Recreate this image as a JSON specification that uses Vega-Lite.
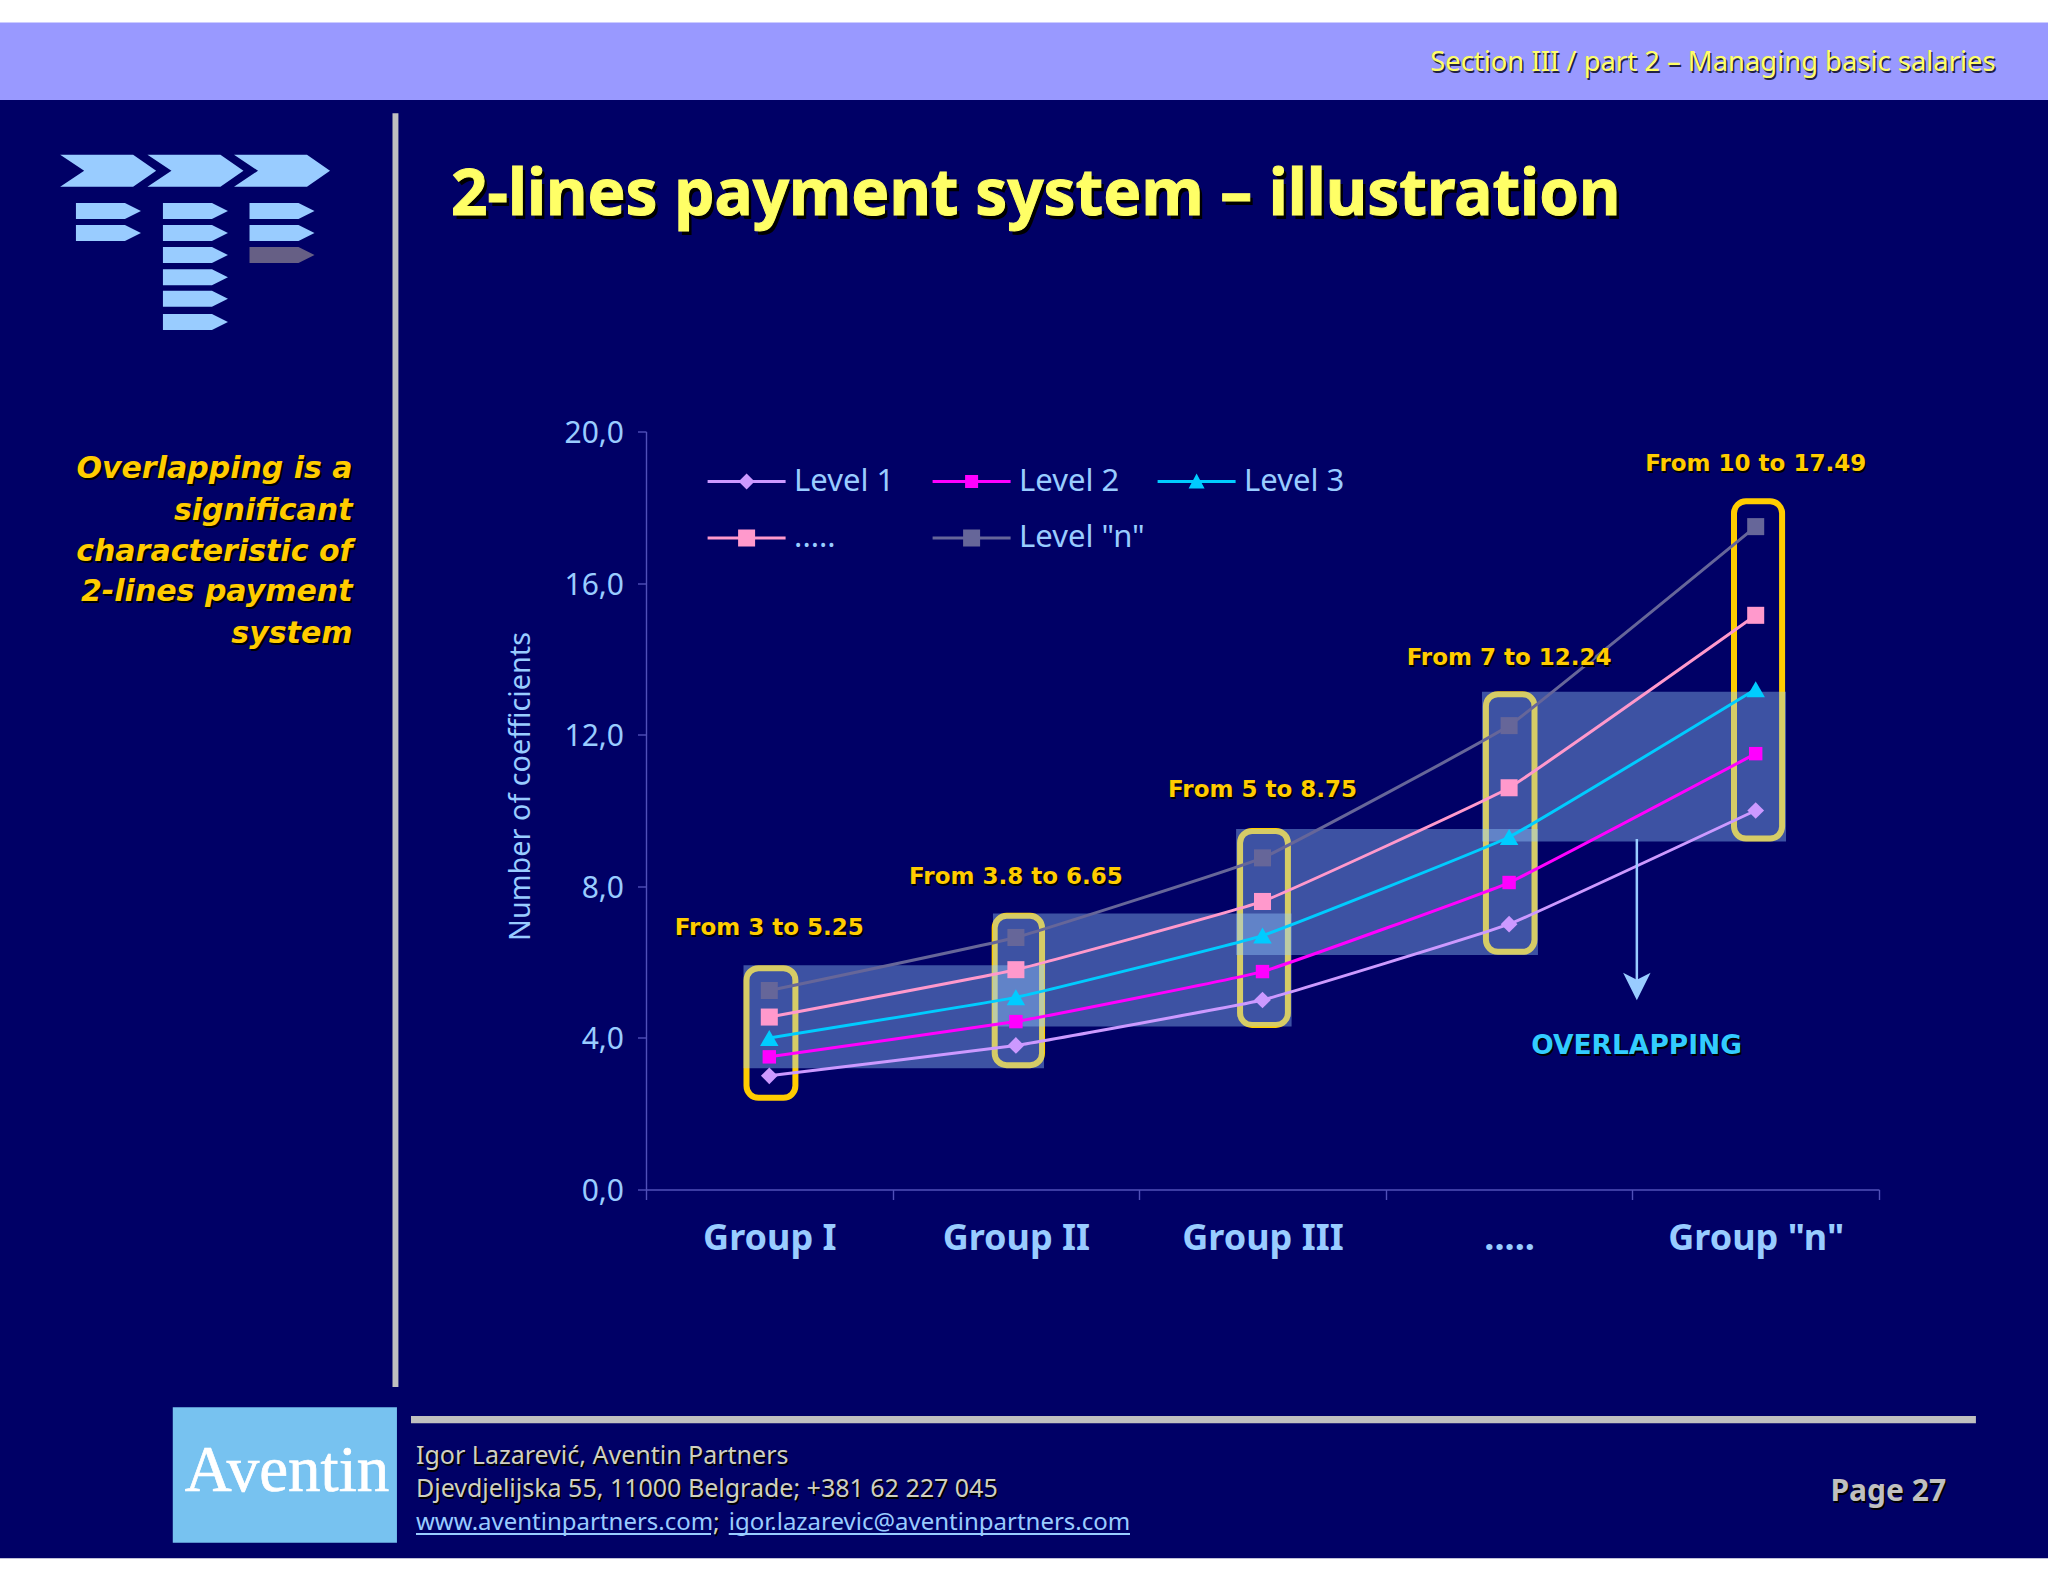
{
"$schema":"https://vega.github.io/schema/vega-lite/v6.json",
"autosize":{"type":"none"},
"padding":{"left":646,"top":431.5,"right":169,"bottom":392.5},
"width":1233,"height":758,
"background":"#FFFFFF",
"config":{"view":{"stroke":null},"text":{"font":"Noto Sans"},"axis":{"grid":false,"domainColor":"#5050B8","tickColor":"#5050B8","domainWidth":1.4,"tickWidth":1.4,"zindex":1}},
"datasets":{
"series":[
{"group":"Group I","level":"Level 1","value":3},{"group":"Group II","level":"Level 1","value":3.8},{"group":"Group III","level":"Level 1","value":5},{"group":".....","level":"Level 1","value":7},{"group":"Group \"n\"","level":"Level 1","value":10},
{"group":"Group I","level":"Level 2","value":3.5},{"group":"Group II","level":"Level 2","value":4.43},{"group":"Group III","level":"Level 2","value":5.75},{"group":".....","level":"Level 2","value":8.1},{"group":"Group \"n\"","level":"Level 2","value":11.5},
{"group":"Group I","level":"Level 3","value":4},{"group":"Group II","level":"Level 3","value":5.07},{"group":"Group III","level":"Level 3","value":6.7},{"group":".....","level":"Level 3","value":9.3},{"group":"Group \"n\"","level":"Level 3","value":13.2},
{"group":"Group I","level":".....","value":4.55},{"group":"Group II","level":".....","value":5.8},{"group":"Group III","level":".....","value":7.6},{"group":".....","level":".....","value":10.6},{"group":"Group \"n\"","level":".....","value":15.15},
{"group":"Group I","level":"Level \"n\"","value":5.25},{"group":"Group II","level":"Level \"n\"","value":6.65},{"group":"Group III","level":"Level \"n\"","value":8.75},{"group":".....","level":"Level \"n\"","value":12.24},{"group":"Group \"n\"","level":"Level \"n\"","value":17.49}
],
"ranges":[
{"group":"Group I","label":"From 3 to 5.25","v":6.9},
{"group":"Group II","label":"From 3.8 to 6.65","v":8.24},
{"group":"Group III","label":"From 5 to 8.75","v":10.54},
{"group":".....","label":"From 7 to 12.24","v":14.02},
{"group":"Group \"n\"","label":"From 10 to 17.49","v":19.14}
],
"boxes":[
{"gx":0.4075,"gx2":0.6058,"v":2.42,"v2":5.84},
{"gx":1.414,"gx2":1.606,"v":3.28,"v2":7.22},
{"gx":2.409,"gx2":2.603,"v":4.34,"v2":9.46},
{"gx":3.406,"gx2":3.603,"v":6.27,"v2":13.07},
{"gx":4.412,"gx2":4.607,"v":9.26,"v2":18.16}
],
"bands":[
{"gx":0.3954,"gx2":1.614,"v":3.2,"v2":5.92},
{"gx":1.407,"gx2":2.618,"v":4.3,"v2":7.28},
{"gx":2.393,"gx2":3.617,"v":6.19,"v2":9.51},
{"gx":3.39,"gx2":4.623,"v":9.18,"v2":13.13}
],
"sidebar":[
{"label":"Overlapping is a","gx":-1.19,"v":19.0},
{"label":"significant","gx":-1.19,"v":17.91},
{"label":"characteristic of","gx":-1.19,"v":16.82},
{"label":"2-lines payment","gx":-1.19,"v":15.77},
{"label":"system","gx":-1.19,"v":14.66}
],
"footer":[
{"label":"Igor Lazarević, Aventin Partners","gx":-0.9327,"v":-7.03},
{"label":"Djevdjelijska 55, 11000 Belgrade; +381 62 227 045","gx":-0.9327,"v":-7.9},
{"label":";","gx":0.272,"v":-8.799}
],
"links":[
{"label":"www.aventinpartners.com","gx":-0.9327,"v":-8.799},
{"label":"igor.lazarevic@aventinpartners.com","gx":0.3354,"v":-8.799}
],
"title":[{"label":"2-lines payment system – illustration","gx":-0.7908,"v":26.22}],
"section":[{"label":"Section III / part 2 – Managing basic salaries","gx":5.473,"v":29.72}],
"page":[{"label":"Page 27","gx":5.272,"v":-7.99}],
"overlap":[{"label":"OVERLAPPING","gx":4.017,"v":3.79}]
},
"resolve":{"scale":{"x":"independent"},"axis":{"x":"independent","y":"independent"},"legend":{"color":"independent","shape":"independent","size":"independent"}},
"encoding":{
"x":{"field":"gx","type":"quantitative","scale":{"domain":[0,5],"nice":false,"zero":false},"axis":null},
"y":{"field":"v","type":"quantitative","scale":{"domain":[0,20],"nice":false,"zero":false},"axis":null}
},
"layer":[
{"data":{"values":[{"gx":-2.62,"gx2":5.69,"v":28.75,"v2":-9.73}]},"mark":{"type":"rect","fill":"#000066"},"encoding":{"x2":{"field":"gx2"},"y2":{"field":"v2"}}},
{"data":{"values":[{"gx":-2.62,"gx2":5.69,"v":30.79,"v2":28.75}]},"mark":{"type":"rect","fill":"#9999FF"},"encoding":{"x2":{"field":"gx2"},"y2":{"field":"v2"}}},
{"data":{"values":[{"gx":-1.028,"gx2":-1.004,"v":28.4,"v2":-5.21},{"gx":-0.953,"gx2":5.393,"v":-5.976,"v2":-6.169}]},"mark":{"type":"rect","fill":"#C0C0C0"},"encoding":{"x2":{"field":"gx2"},"y2":{"field":"v2"}}},
{"data":{"values":[{"gx":-1.919,"gx2":-1.01,"v":-5.747,"v2":-9.319}]},"mark":{"type":"rect","fill":"#77C2F0"},"encoding":{"x2":{"field":"gx2"},"y2":{"field":"v2"}}},
{"data":{"values":[{"gx":-2.181,"v":26.88},{"gx":-1.827,"v":26.88},{"gx":-1.476,"v":26.88}]},"mark":{"type":"point","filled":true,"opacity":1,"color":"#99CCFF","size":9216,"shape":"M-1,-0.333L0.52,-0.333L1,0L0.52,0.333L-1,0.333L-0.5,0Z"}},
{"data":{"values":[{"gx":-2.18,"v":25.82},{"gx":-2.18,"v":25.24},{"gx":-1.827,"v":25.82},{"gx":-1.827,"v":25.24},{"gx":-1.827,"v":24.66},{"gx":-1.827,"v":24.07},{"gx":-1.827,"v":23.5},{"gx":-1.827,"v":22.89},{"gx":-1.476,"v":25.82},{"gx":-1.476,"v":25.24}]},"mark":{"type":"point","filled":true,"opacity":1,"color":"#99CCFF","size":4225,"shape":"M-1,-0.246L0.508,-0.246L1,0L0.508,0.246L-1,0.246Z"}},
{"data":{"values":[{"gx":-1.476,"v":24.66}]},"mark":{"type":"point","filled":true,"opacity":1,"color":"#665F85","size":4225,"shape":"M-1,-0.246L0.508,-0.246L1,0L0.508,0.246L-1,0.246Z"}},
{"data":{"name":"boxes"},"mark":{"type":"rect","fill":"transparent","stroke":"#FFCC00","strokeWidth":6,"cornerRadius":12},"encoding":{"x2":{"field":"gx2"},"y2":{"field":"v2"}}},
{"data":{"name":"bands"},"mark":{"type":"rect","fill":"#99CCFF","opacity":0.4},"encoding":{"x2":{"field":"gx2"},"y2":{"field":"v2"}}},
{"data":{"name":"series"},"mark":{"type":"line","interpolate":"cardinal","tension":0.75,"strokeWidth":3},
"encoding":{
"x":{"field":"group","type":"nominal","sort":null,"scale":{"type":"band","domain":["Group I","Group II","Group III",".....","Group \"n\""],"paddingInner":0,"paddingOuter":0},
"axis":{"title":null,"labelAngle":0,"labelColor":"#99CCFF","labelFont":"Noto Sans","labelFontWeight":"bold","labelFontSize":36,"labelPadding":22,"tickSize":10,"tickBand":"extent","zindex":1}},
"y":{"field":"value","type":"quantitative","scale":{"domain":[0,20],"nice":false,"zero":false},
"axis":{"title":"Number of coefficients","titleColor":"#99CCFF","titleFont":"Noto Sans","titleFontSize":28.8,"titleFontWeight":"normal","titleX":-126,"titleY":354.5,"titleBaseline":"middle","values":[0,4,8,12,16,20],"labelExpr":"replace(format(datum.value,'.1f'),'.',',')","labelColor":"#99CCFF","labelFont":"Noto Sans","labelFontSize":30,"labelPadding":14,"labelOffset":2,"tickSize":8.5,"zindex":1}},
"color":{"field":"level","type":"nominal","sort":null,"scale":{"domain":["Level 1","Level 2","Level 3",".....","Level \"n\""],"range":["#CC99FF","#FF00FF","#00CCFF","#FF99CC","#666699"]},"legend":null}
}},
{"data":{"name":"series"},"mark":{"type":"point","filled":true,"opacity":1},
"encoding":{
"x":{"field":"group","type":"nominal","sort":null,"scale":{"type":"band","domain":["Group I","Group II","Group III",".....","Group \"n\""],"paddingInner":0,"paddingOuter":0},"axis":null},
"y":{"field":"value","type":"quantitative","scale":{"domain":[0,20],"nice":false,"zero":false},"axis":null},
"color":{"field":"level","type":"nominal","sort":null,"scale":{"domain":["Level 1","Level 2","Level 3",".....","Level \"n\""],"range":["#CC99FF","#FF00FF","#00CCFF","#FF99CC","#666699"]},"legend":null},
"shape":{"field":"level","type":"nominal","sort":null,"scale":{"domain":["Level 1","Level 2","Level 3",".....","Level \"n\""],"range":["diamond","square","triangle-up","square","square"]},"legend":null},
"size":{"field":"level","type":"ordinal","sort":null,"scale":{"type":"ordinal","domain":["Level 1","Level 2","Level 3",".....","Level \"n\""],"range":[280,180,340,290,290]},"legend":null}
}},
{"data":{"name":"series"},"mark":{"type":"point","filled":true,"opacity":1,"size":0},
"encoding":{
"x":{"field":"group","type":"nominal","sort":null,"scale":{"type":"band","domain":["Group I","Group II","Group III",".....","Group \"n\""],"paddingInner":0,"paddingOuter":0},"axis":null},
"y":{"field":"value","type":"quantitative","scale":{"domain":[0,20],"nice":false,"zero":false},"axis":null},
"color":{"field":"level","type":"nominal","sort":null,"scale":{"domain":["Level 1","Level 2","Level 3",".....","Level \"n\""],"range":["#CC99FF","#FF00FF","#00CCFF","#FF99CC","#666699"]},
"legend":{"title":null,"orient":"none","direction":"horizontal","legendX":80.6,"legendY":30,"columns":3,"gridAlign":"all","padding":0,"columnPadding":12,"rowPadding":21.6,"symbolSize":1600,"symbolStrokeWidth":0,"labelOffset":27.5,"labelColor":"#99CCFF","labelFont":"Noto Sans","labelFontSize":31,"labelLimit":300,"zindex":1,
"encoding":{"symbols":{"shape":{"value":{"expr":"datum.value=='Level 1'?'M-1.95,-0.075H1.95V0.075H-1.95ZM0,-0.4L0.4,0L0,0.4L-0.4,0Z':datum.value=='Level 2'?'M-1.95,-0.075H1.95V0.075H-1.95ZM-0.325,-0.325H0.325V0.325H-0.325Z':datum.value=='Level 3'?'M-1.95,-0.075H1.95V0.075H-1.95ZM0,-0.4L0.4,0.35L-0.4,0.35Z':'M-1.95,-0.075H1.95V0.075H-1.95ZM-0.425,-0.425H0.425V0.425H-0.425Z'"}}}}}}
}},
{"data":{"values":[{"gx":4.018,"v":9.248,"v2":5.26}]},"mark":{"type":"rule","color":"#99CCFF","strokeWidth":2.5},"encoding":{"y2":{"field":"v2"}}},
{"data":{"values":[{"gx":4.018,"v":5.356}]},"mark":{"type":"point","filled":true,"opacity":1,"color":"#99CCFF","size":756,"shape":"M-1,-1L0,-0.5L1,-1L0,1Z"}},
{"data":{"name":"section"},"mark":{"type":"text","align":"right","font":"Noto Sans","fontSize":27.4,"color":"#222244","dx":1.5,"dy":2},"encoding":{"text":{"field":"label"}}},
{"data":{"name":"section"},"mark":{"type":"text","align":"right","font":"Noto Sans","fontSize":27.4,"color":"#FFFF66"},"encoding":{"text":{"field":"label"}}},
{"data":{"name":"title"},"mark":{"type":"text","align":"left","font":"Noto Sans","fontWeight":"bold","fontSize":63.8,"color":"#000000","dx":3,"dy":4},"encoding":{"text":{"field":"label"}}},
{"data":{"name":"title"},"mark":{"type":"text","align":"left","font":"Noto Sans","fontWeight":"bold","fontSize":63.8,"color":"#FFFF66","stroke":"#FFFF66","strokeWidth":1},"encoding":{"text":{"field":"label"}}},
{"data":{"name":"sidebar"},"mark":{"type":"text","align":"right","font":"DejaVu Sans","fontWeight":"bold","fontStyle":"italic","fontSize":30,"color":"#000000","dx":2,"dy":2},"encoding":{"text":{"field":"label"}}},
{"data":{"name":"sidebar"},"mark":{"type":"text","align":"right","font":"DejaVu Sans","fontWeight":"bold","fontStyle":"italic","fontSize":30,"color":"#FFCC00"},"encoding":{"text":{"field":"label"}}},
{"data":{"name":"ranges"},"mark":{"type":"text","font":"DejaVu Sans","fontWeight":"bold","fontSize":23,"color":"#000000","dx":1.5,"dy":2},
"encoding":{"x":{"field":"group","type":"nominal","sort":null,"scale":{"type":"band","domain":["Group I","Group II","Group III",".....","Group \"n\""],"paddingInner":0,"paddingOuter":0},"axis":null},"text":{"field":"label"}}},
{"data":{"name":"ranges"},"mark":{"type":"text","font":"DejaVu Sans","fontWeight":"bold","fontSize":23,"color":"#FFCC00"},
"encoding":{"x":{"field":"group","type":"nominal","sort":null,"scale":{"type":"band","domain":["Group I","Group II","Group III",".....","Group \"n\""],"paddingInner":0,"paddingOuter":0},"axis":null},"text":{"field":"label"}}},
{"data":{"name":"overlap"},"mark":{"type":"text","font":"DejaVu Sans","fontWeight":"bold","fontSize":26.5,"color":"#000000","dx":1.5,"dy":2},"encoding":{"text":{"field":"label"}}},
{"data":{"name":"overlap"},"mark":{"type":"text","font":"DejaVu Sans","fontWeight":"bold","fontSize":26.5,"color":"#33CCFF"},"encoding":{"text":{"field":"label"}}},
{"data":{"values":[{"label":"Aventin","gx":-1.456,"v":-7.947}]},"mark":{"type":"text","baseline":"alphabetic","font":"Liberation Serif","fontSize":65,"color":"#FFFFFF","stroke":"#FFFFFF","strokeWidth":0.7},"encoding":{"text":{"field":"label"}}},
{"data":{"name":"footer"},"mark":{"type":"text","align":"left","font":"Noto Sans","fontSize":25,"color":"#000000","dx":1.5,"dy":2},"encoding":{"text":{"field":"label"}}},
{"data":{"name":"footer"},"mark":{"type":"text","align":"left","font":"Noto Sans","fontSize":25,"color":"#D0D0C0"},"encoding":{"text":{"field":"label"}}},
{"data":{"name":"links"},"mark":{"type":"text","align":"left","font":"Noto Sans","fontSize":24,"color":"#99CCFF"},"encoding":{"text":{"field":"label"}}},
{"data":{"values":[{"gx":-0.9327,"gx2":0.2636,"v":-9.09},{"gx":0.3354,"gx2":1.9627,"v":-9.09}]},"mark":{"type":"rule","color":"#99CCFF","strokeWidth":2},"encoding":{"x2":{"field":"gx2"}}},
{"data":{"name":"page"},"mark":{"type":"text","align":"right","font":"Noto Sans","fontWeight":"bold","fontSize":30,"color":"#000000","dx":1.5,"dy":2},"encoding":{"text":{"field":"label"}}},
{"data":{"name":"page"},"mark":{"type":"text","align":"right","font":"Noto Sans","fontWeight":"bold","fontSize":30,"color":"#C0C0C0"},"encoding":{"text":{"field":"label"}}}
]
}
